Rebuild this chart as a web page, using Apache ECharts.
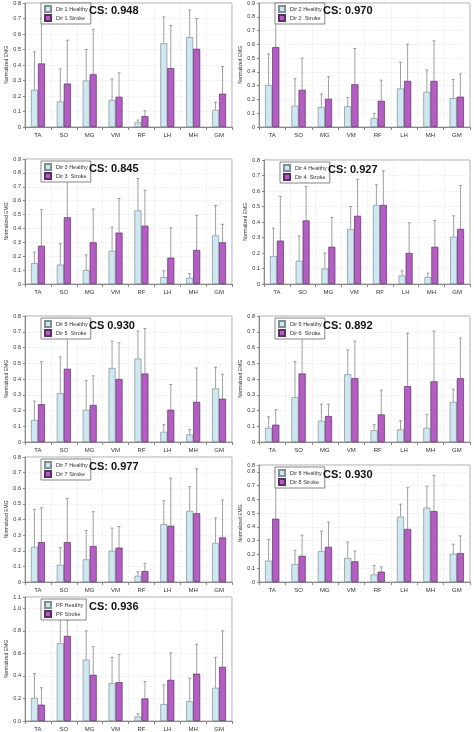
<!DOCTYPE html>
<html><head><meta charset="utf-8">
<script src="https://cdn.jsdelivr.net/npm/echarts@6/dist/echarts.min.js"></script>
<style>html,body{margin:0;padding:0;background:#fff}#c{width:474px;height:732px}</style>
</head><body><div id="c"></div>
<script>
const categories = ['TA','SO','MG','VM','RF','LH','MH','GM'];
const panelNames = ['Dir 1','Dir 2','Dir 3','Dir 4','Dir 5','Dir 6','Dir 7','Dir 8','PF'];
const csLabels = ['CS: 0.948','CS: 0.970','CS: 0.845','CS: 0.927','CS 0.930','CS: 0.892','CS: 0.977','CS: 0.930','CS: 0.936'];
const yMax = [0.8,0.9,0.9,0.8,0.8,0.8,0.8,0.85,1.1];
const yInterval = [0.1,0.1,0.1,0.1,0.1,0.1,0.1,0.1,0.2];
const healthy = [
 [.24,.165,.30,.175,.03,.54,.58,.11],
 [.305,.155,.145,.15,.065,.28,.255,.21],
 [.15,.14,.10,.24,.53,.05,.045,.35],
 [.18,.15,.10,.355,.51,.055,.045,.305],
 [.14,.31,.205,.47,.53,.065,.048,.34],
 [.09,.285,.135,.43,.075,.08,.09,.255],
 [.225,.11,.145,.20,.04,.37,.455,.25],
 [.155,.13,.225,.175,.055,.475,.54,.205],
 [.205,.69,.545,.335,.04,.15,.175,.295]];
const healthyUp = [
 [.485,.375,.50,.31,.045,.71,.755,.16],
 [.53,.35,.24,.215,.10,.47,.415,.345],
 [.23,.29,.21,.41,.76,.095,.075,.565],
 [.36,.31,.20,.50,.64,.085,.07,.44],
 [.26,.54,.39,.64,.705,.11,.08,.475],
 [.16,.51,.24,.585,.11,.135,.175,.335],
 [.465,.22,.33,.345,.065,.52,.61,.41],
 [.31,.23,.37,.29,.12,.565,.695,.275],
 [.42,.965,.80,.565,.065,.32,.38,.565]];
const stroke = [
 [.41,.28,.34,.195,.07,.38,.505,.215],
 [.58,.27,.205,.31,.19,.335,.335,.22],
 [.275,.48,.30,.37,.42,.19,.245,.30],
 [.28,.41,.24,.44,.51,.20,.24,.355],
 [.24,.465,.235,.40,.435,.205,.255,.275],
 [.11,.435,.165,.405,.175,.355,.385,.405],
 [.255,.255,.23,.22,.07,.36,.44,.285],
 [.46,.19,.255,.15,.075,.385,.515,.21],
 [.145,.755,.41,.345,.20,.365,.42,.48]];
const strokeUp = [
 [.70,.56,.63,.35,.105,.655,.70,.39],
 [.85,.50,.365,.57,.34,.60,.625,.385],
 [.535,.79,.54,.615,.675,.405,.495,.43],
 [.565,.63,.43,.675,.73,.395,.41,.635],
 [.51,.675,.42,.63,.72,.365,.47,.43],
 [.205,.685,.24,.64,.33,.69,.705,.66],
 [.475,.535,.45,.355,.12,.665,.725,.525],
 [.80,.34,.435,.225,.11,.685,.775,.335],
 [.295,.895,.66,.59,.35,.605,.68,.80]];

// layout [left, top, width, height]
const boxes = [
 [25,1,207,126],[259,1,211,126],
 [25,159,207,125],[264,160,206,124],
 [25,316,207,126],[259,316,211,126],
 [25,457,207,125],[259,465,211,117],
 [25,597,207,127]];

const grids=[],xAxes=[],yAxes=[],series=[],legends=[],graphics=[];
const BW=0.27;
function errSeries(i,vals,ups,sign){
  return {type:'custom',xAxisIndex:i,yAxisIndex:i,z:1,silent:true,
    data:vals.map((v,k)=>[k,v,ups[k]]),
    renderItem:(params,api)=>{
      const w=api.size([1,0])[0];
      const p0=api.coord([api.value(0),api.value(1)]);
      const p1=api.coord([api.value(0),api.value(2)]);
      const x=p0[0]+sign*w*BW/2;
      return {type:'group',children:[
        {type:'line',shape:{x1:x,y1:p0[1],x2:x,y2:p1[1]},style:{stroke:'#888',lineWidth:0.8}},
        {type:'line',shape:{x1:x-1.5,y1:p1[1],x2:x+1.5,y2:p1[1]},style:{stroke:'#888',lineWidth:0.8}}]};
    }};
}
boxes.forEach((b,i)=>{
  grids.push({left:b[0],top:b[1],width:b[2],height:b[3],show:true,borderColor:'#aaa',borderWidth:1});
  xAxes.push({type:'category',gridIndex:i,data:categories,
    axisLine:{lineStyle:{color:'#888'}},axisTick:{show:true,length:3,lineStyle:{color:'#888'}},
    axisLabel:{fontSize:6,color:'#333',margin:5,fontFamily:'Liberation Sans'},
    splitLine:{show:true,lineStyle:{color:'#e6e6e6',type:'dashed',width:0.6}}});
  yAxes.push({type:'value',gridIndex:i,min:0,max:yMax[i],interval:yInterval[i],
    name:'Normalized EMG',nameLocation:'middle',nameGap:16,nameRotate:90,
    nameTextStyle:{fontSize:5,color:'#333'},
    axisLine:{show:true,lineStyle:{color:'#888'}},axisTick:{show:true,length:2},
    axisLabel:{fontSize:5.5,color:'#333',margin:4,formatter:v=>(i===8?v.toFixed(1):(v===0?'0':v.toFixed(1)))},
    splitLine:{lineStyle:{color:'#e6e6e6',type:'dashed',width:0.6}}});
  const hn=panelNames[i]+' Healthy', sn=panelNames[i]+(i===0||i===8||i===6||i===7?' Stroke':'  Stroke');
  series.push({type:'bar',name:hn,xAxisIndex:i,yAxisIndex:i,data:healthy[i],barWidth:(BW*100)+'%',barGap:'0%',
    itemStyle:{color:'#cfe7f1',borderColor:'#7f8f96',borderWidth:0.7}});
  series.push({type:'bar',name:sn,xAxisIndex:i,yAxisIndex:i,data:stroke[i],barWidth:(BW*100)+'%',barGap:'0%',
    itemStyle:{color:'#b45ec4',borderColor:'#5a2f66',borderWidth:0.7}});
  series.push(errSeries(i,healthy[i],healthyUp[i],-1));
  series.push(errSeries(i,stroke[i],strokeUp[i],1));
  legends.push({data:[hn,sn],orient:'vertical',left:b[0]+16,top:b[1]+2,itemWidth:6,itemHeight:6,itemGap:1,
    padding:[2,3],borderColor:'#555',borderWidth:0.7,backgroundColor:'#fff',
    textStyle:{fontSize:5.5,color:'#333'},icon:'rect'});
  graphics.push({type:'text',left:b[0]+64,top:b[1]+4,z:100,
    style:{text:csLabels[i],font:'bold 11px "Liberation Sans", Arial',fill:'#111'}});
});
const chart=echarts.init(document.getElementById('c'),null,{renderer:'canvas'});
chart.setOption({animation:false,grid:grids,xAxis:xAxes,yAxis:yAxes,series:series,legend:legends,graphic:graphics});
</script></body></html>
